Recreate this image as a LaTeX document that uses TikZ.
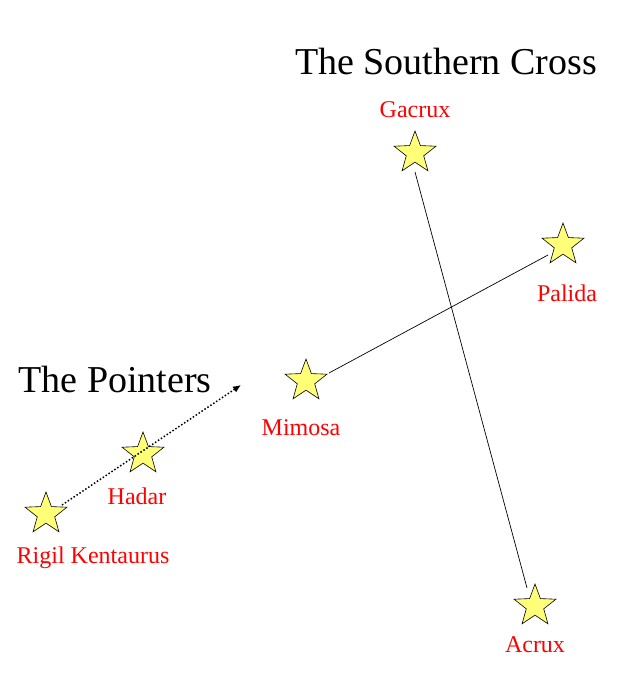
\documentclass[tikz,border=0pt]{standalone}
\usepackage{fontspec}
\setmainfont{Liberation Serif}
\newfontfamily\starserif{Liberation Serif}
\usetikzlibrary{shapes.geometric,arrows.meta,calc}
\definecolor{staryellow}{RGB}{255,255,120}
\tikzset{
 starnode/.style={star,star points=5,star point ratio=2.4,draw=black,fill=staryellow,minimum size=44pt,inner sep=0pt,line width=0.6pt},
 lbl/.style={text=red,font=\starserif\fontsize{24}{26}\selectfont,inner sep=0pt},
 ttl/.style={font=\starserif\fontsize{38}{40}\selectfont,inner sep=0pt}
}
\begin{document}
\begin{tikzpicture}[x=1pt,y=-1pt]
\useasboundingbox (0,0) rectangle (640,695);
\node[starnode] (gac) at (415,153) {};
\node[starnode] (pal) at (563,245) {};
\node[starnode] (mim) at (306,381) {};
\node[starnode] (had) at (143,454) {};
\node[starnode] (rig) at (46,514) {};
\node[starnode] (acr) at (535,606) {};
\node[lbl] at (415,110) {Gacrux};
\node[lbl] at (567,293) {Palida};
\node[lbl] at (301,428) {Mimosa};
\node[lbl] at (137,496) {Hadar};
\node[lbl] at (93,558) {Rigil Kentaurus};
\node[lbl] at (535,645) {Acrux};
\node[ttl] (sc) at (446,62) {The Southern Cross};
\node[ttl] (tp) at (115,379) {The Pointers};
\coordinate (tip) at (241,385);
\draw[line width=0.7pt] ($(gac.center)+(0,19)$) -- ($(acr.center)+(-8,-18)$);
\draw[line width=0.7pt] ($(pal.center)+(-15,10)$) -- ($(mim.center)+(23,-8)$);
\draw[line width=1.5pt,dotted,-{Latex[length=8pt,width=7pt]}] ($(rig.center)+(16,-9)$) -- (tip);
\end{tikzpicture}
\end{document}
